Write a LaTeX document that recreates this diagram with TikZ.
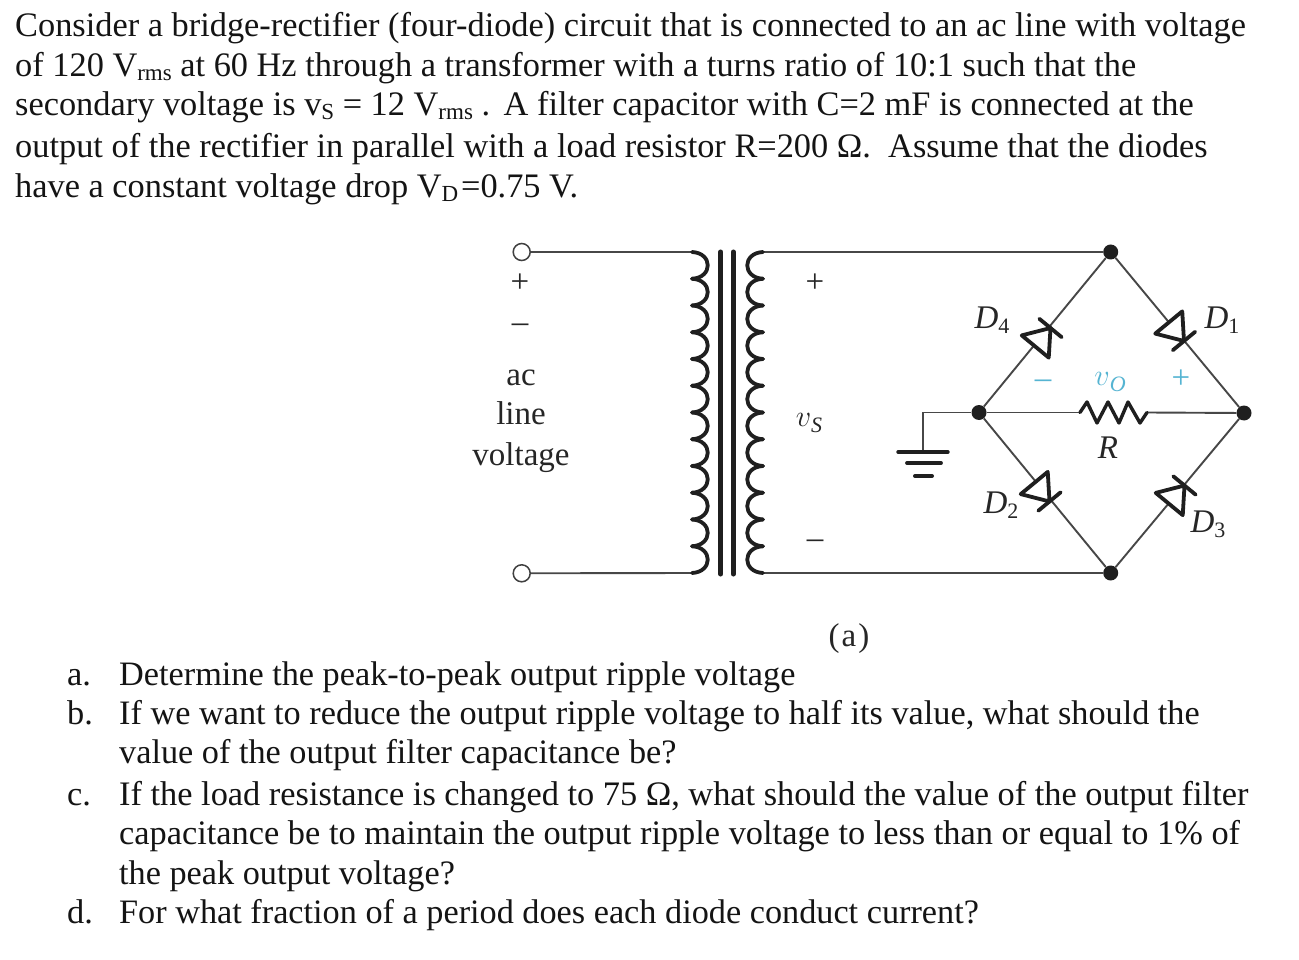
\documentclass[tikz,border=0pt]{standalone}
\usepackage{fontspec}
\setmainfont{Liberation Serif}
\definecolor{vblue}{HTML}{55B4D2}
\newcommand{\lowsub}[1]{\raisebox{-0.1em}{\fontsize{23}{23}\selectfont #1}}
\newcommand{\smallit}[2]{\scalebox{1.22}{$#1$}\raisebox{-0.2em}{\fontsize{22}{22}\selectfont\textit{#2}}}
\newcommand{\smallrm}[2]{\textit{#1}\raisebox{-0.16em}{\fontsize{22}{22}\selectfont #2}}
\tikzset{
  txt/.style={anchor=base west,inner sep=0pt,text=black!92,font=\fontsize{34.35}{34.35}\selectfont},
  txtb/.style={txt,font=\fontsize{34.25}{34.25}\selectfont},
  lab/.style={anchor=base,inner sep=0pt,text=black!85,font=\fontsize{33}{33}\selectfont},
  wire/.style={draw=black!72,line width=1.9pt},
  heavy/.style={draw=black!88,line width=3.8pt,line cap=round,line join=round},
  dot/.style={circle,fill=black!88,draw=none,minimum size=15pt,inner sep=0pt},
  term/.style={circle,draw=black!75,fill=white,line width=1.5pt,minimum size=17pt,inner sep=0pt},
  blue/.style={text=vblue}
}
\newcommand{\diode}[3]{%
  \begin{scope}[shift={(#1,#2)},rotate=#3]
    \draw[heavy,fill=white] (-24,17.5) -- (0,0) -- (-24,-17.5) -- cycle;
    \draw[heavy] (0,14.5) -- (0,-14.5);
  \end{scope}}
\begin{document}
\begin{tikzpicture}[x=1pt,y=-1pt]
\useasboundingbox (0,0) rectangle (1299,960);
\fill[white] (0,0) rectangle (1299,960);
% problem text
\node[txt] (l1) at (15,37) {Consider a bridge-rectifier (four-diode) circuit that is connected to an ac line with voltage};
\node[txt] (l2) at (15,77) {of 120 V\lowsub{rms} at 60 Hz through a transformer with a turns ratio of 10:1 such that the};
\node[txt] (l3) at (15,116) {secondary voltage is v\lowsub{S} = 12 V\lowsub{rms} .\ \kern5pt A filter capacitor with C=2 mF is connected at the};
\node[txt] (l4) at (15,158) {output of the rectifier in parallel with a load resistor R=200 Ω.\ \ Assume that the diodes};
\node[txt] (l5) at (15,198) {have a constant voltage drop V\lowsub{D}\kern3pt =0.75 V.};
% questions
\node[txt] (qa) at (67,685) {a.};
\node[txtb] (ta) at (119,685) {Determine the peak-to-peak output ripple voltage};
\node[txt] (qb) at (67,724) {b.};
\node[txtb] (tb) at (119,724) {If we want to reduce the output ripple voltage to half its value, what should the};
\node[txtb] (tb2) at (119,763) {value of the output filter capacitance be?};
\node[txt] (qc) at (67,805) {c.};
\node[txt] (tc) at (119,805) {If the load resistance is changed to 75 Ω, what should the value of the output filter};
\node[txt] (tc2) at (119,844) {capacitance be to maintain the output ripple voltage to less than or equal to 1\% of};
\node[txtb] (tc3) at (119,884) {the peak output voltage?};
\node[txt] (qd) at (67,923) {d.};
\node[txtb] (td) at (119,923) {For what fraction of a period does each diode conduct current?};
\node[lab] (cap) at (849,646) {(\kern2pt a\kern2pt )};
% junctions
\node[term] (p1) at (521.7,252) {};
\node[term] (p2) at (521.7,573.3) {};
\node[dot] (top) at (1110.7,252) {};
\node[dot] (bot) at (1110.7,573) {};
\node[dot] (lft) at (979,412.5) {};
\node[dot] (rgt) at (1244,413) {};
\coordinate (c1) at (692,252);
\coordinate (c2) at (692,573);
\coordinate (s1) at (763,252);
\coordinate (s2) at (763,573);
\coordinate (ra) at (1080,412.5);
\coordinate (rb) at (1147,412.5);
\coordinate (gnd) at (923.3,452);
% wires
\draw[wire] (p1) -- (c1);
\draw[wire] (p2) -- (c2);
\draw[wire] (s1) -- (top);
\draw[wire] (s2) -- (bot);
\draw[wire] (lft) -- (ra);
\draw[wire] (rb) -- (rgt);
\draw[wire] (lft) -- (923.3,412.5) -- (gnd);
\draw[wire] (top) -- (lft);
\draw[wire] (top) -- (rgt);
\draw[wire] (bot) -- (lft);
\draw[wire] (bot) -- (rgt);
% coils
\foreach \i in {0,...,11} {
  \draw[heavy] (692,{252+\i*26.75}) .. controls (713,{253+\i*26.75}) and (713,{251+(\i+1)*26.75}) .. (692,{252+(\i+1)*26.75});
  \draw[heavy] (763,{252+\i*26.75}) .. controls (742,{253+\i*26.75}) and (742,{251+(\i+1)*26.75}) .. (763,{252+(\i+1)*26.75});
}
% core
\draw[heavy,line width=5pt] (720.7,252) -- (720.7,574);
\draw[heavy,line width=5pt] (733.3,252) -- (733.3,574);
% resistor
\draw[heavy,line width=3.4pt] (ra) -- (1087,402) -- (1097,423) -- (1108,402) -- (1119,423) -- (1128,402) -- (1140,423) -- (rb);
% ground
\draw[heavy,line width=3.4pt] (898,452) -- (948,452);
\draw[heavy,line width=3.8pt] (907,463) -- (941,463);
\draw[heavy,line width=4pt] (915,476) -- (932,476);
% diodes
\diode{1050.5}{328}{50.5}
\diode{1184}{341}{-50.5}
\diode{1049.5}{501.5}{-50.5}
\diode{1184.5}{485.5}{50.5}
% labels
\node[lab] (pp) at (520,293) {+};
\node[lab] (pm) at (520,332) {–};
\node[lab] (ac) at (521,385) {ac};
\node[lab] (li) at (521,424) {line};
\node[lab] (vo) at (521,465) {voltage};
\node[lab] (sp) at (815,293) {+};
\node[lab] (sm) at (815,548) {–};
\node[lab] (vs) at (809,426) {\smallit{v}{S}};
\node[lab] (d4) at (992,328) {\smallrm{D}{4}};
\node[lab] (d1) at (1222,328) {\smallrm{D}{1}};
\node[lab] (d2) at (1001,513) {\smallrm{D}{2}};
\node[lab] (d3) at (1208,532) {\smallrm{D}{3}};
\node[lab] (r) at (1108,458) {\textit{R}};
\node[lab,blue] (voo) at (1110,385) {\smallit{v}{O}};
\node[lab,blue] (vm) at (1043,388) {–};
\node[lab,blue] (vp) at (1181,388) {+};
\end{tikzpicture}
\end{document}
